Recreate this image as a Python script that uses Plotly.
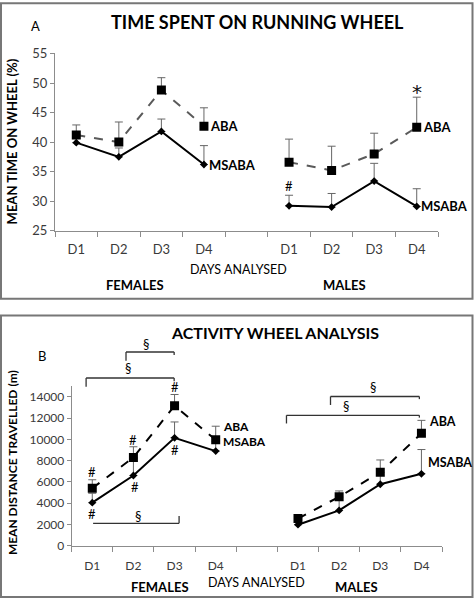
import plotly.graph_objects as go

W, H = 474, 608
def px(x): return x / W
def py(y): return 1 - y / H

# ---------------- data ----------------
days = ["D1", "D2", "D3", "D4"]
fem_x = [0, 1, 2, 3]
male_x = [5, 6, 7, 8]

# Panel A: mean time on wheel (%)
a_aba_f = [41.2, 40.0, 48.8, 42.7]
a_aba_f_err = [1.7, 3.4, 2.1, 3.1]
a_ms_f = [39.9, 37.5, 41.8, 36.2]
a_ms_f_err = [0.8, 1.5, 2.1, 3.2]
a_aba_m = [36.6, 35.2, 38.0, 42.5]
a_aba_m_err = [3.9, 4.1, 3.5, 5.1]
a_ms_m = [29.2, 29.0, 33.4, 29.1]
a_ms_m_err = [1.8, 2.3, 3.0, 3.0]

# Panel B: mean distance travelled (m)
b_aba_f = [5400, 8300, 13150, 9950]
b_aba_f_err = [800, 1000, 1060, 1280]
b_ms_f = [4050, 6600, 10140, 8890]
b_ms_f_err = [880, 1600, 1490, 900]
b_aba_m = [2550, 4600, 6900, 10560]
b_aba_m_err = [200, 550, 1160, 1220]
b_ms_m = [1980, 3320, 5780, 6760]
b_ms_m_err = [400, 1200, 1100, 2280]
b_yticks = [0, 2000, 4000, 6000, 8000, 10000, 12000, 14000]

GRAY = "#666666"
AX = "#8c8c8c"
FONT = "Lato"

fig = go.Figure()

def add_series(x, y, err, xa, ya, kind, dashcol):
    if kind == "aba":
        line = dict(color=dashcol, width=2, dash="dash")
        marker = dict(symbol="square", size=9, color="black")
    else:
        line = dict(color="black", width=2)
        marker = dict(symbol="diamond", size=6, color="black")
    fig.add_trace(go.Scatter(
        x=x, y=y, xaxis=xa, yaxis=ya, mode="lines+markers",
        line=line, marker=marker, showlegend=False,
        error_y=dict(type="data", symmetric=False, array=err,
                     arrayminus=[0] * len(err), color=GRAY,
                     thickness=1, width=4)))

# Panel A
add_series(fem_x, a_ms_f, a_ms_f_err, "x", "y", "ms", "black")
add_series(fem_x, a_aba_f, a_aba_f_err, "x", "y", "aba", "#5a5a5a")
add_series(male_x, a_ms_m, a_ms_m_err, "x", "y", "ms", "black")
add_series(male_x, a_aba_m, a_aba_m_err, "x", "y", "aba", "#5a5a5a")
# Panel B
add_series(fem_x, b_ms_f, b_ms_f_err, "x2", "y2", "ms", "black")
add_series(fem_x, b_aba_f, b_aba_f_err, "x2", "y2", "aba", "black")
add_series(male_x, b_ms_m, b_ms_m_err, "x2", "y2", "ms", "black")
add_series(male_x, b_aba_m, b_aba_m_err, "x2", "y2", "aba", "black")

tickfont = dict(family=FONT, size=13, color="#3a3a3a")
xcommon = dict(range=[-0.5, 8.5], tickmode="array", tickvals=fem_x + male_x,
               ticktext=days + days, ticks="", showline=True, linecolor=AX,
               linewidth=1, showgrid=False, zeroline=False, fixedrange=True,
               minor=dict(tickmode="array", tickvals=[i - 0.5 for i in range(10)],
                          ticks="outside", ticklen=5, tickcolor=AX, tickwidth=1))

fig.update_layout(
    width=W, height=H, margin=dict(l=0, r=0, t=0, b=0),
    paper_bgcolor="white", plot_bgcolor="white",
    font=dict(family=FONT, color="black"),
    xaxis=dict(domain=[px(55), px(438)], anchor="y", tickfont=tickfont,
               ticklabelstandoff=7, **xcommon),
    yaxis=dict(domain=[py(228.7), py(46.7)], anchor="x", range=[25, 55],
               dtick=5, tick0=25, showline=True, linecolor=AX, ticks="outside",
               ticklen=4, tickcolor=AX, showgrid=False, zeroline=False,
               tickfont=tickfont),
    xaxis2=dict(domain=[px(71.7), px(442)], anchor="y2",
                tickfont=dict(family=FONT, size=12, color="#3a3a3a"),
                ticklabelstandoff=9, **xcommon),
    yaxis2=dict(domain=[py(552.3), py(388.3)], anchor="x2", range=[0, 15000],
                tickmode="array", tickvals=b_yticks,
                ticktext=[str(v) for v in b_yticks],
                showline=True, linecolor=AX, ticks="outside", ticklen=4,
                tickcolor=AX, showgrid=False, zeroline=False,
                tickfont=dict(family=FONT, size=12, color="#3a3a3a")),
)

ann = []
def txt(x, y, s, size=13, bold=False, xref="paper", yref="paper", angle=0,
        xanchor="center", yanchor="middle", xshift=0, yshift=0, color="black",
        family=FONT):
    ann.append(dict(x=x, y=y, xref=xref, yref=yref, text=(f"<b>{s}</b>" if bold else s),
                    showarrow=False, textangle=angle, xanchor=xanchor, yanchor=yanchor,
                    xshift=xshift, yshift=yshift,
                    font=dict(family=family, size=size, color=color)))

# Panel A texts
txt(px(257), py(14), "TIME SPENT ON RUNNING WHEEL", 18, True)
txt(px(35), py(18), "A", 13)
txt(px(12), py(137), "MEAN TIME ON WHEEL (%)", 13, True, angle=-90)
txt(px(238), py(269), "DAYS ANALYSED", 12.5)
txt(px(135), py(284), "FEMALES", 13, True)
txt(px(344), py(284), "MALES", 13, True)
txt(fem_x[3], a_aba_f[3], "ABA", 13, True, "x", "y", xanchor="left", xshift=4)
txt(fem_x[3], a_ms_f[3], "MSABA", 13, True, "x", "y", xanchor="left", xshift=3)
txt(male_x[3], a_aba_m[3], "ABA", 13, True, "x", "y", xanchor="left", xshift=4)
txt(male_x[3], a_ms_m[3], "MSABA", 13, True, "x", "y", xanchor="left", xshift=2)
txt(male_x[0], a_ms_m[0], "#", 13, False, "x", "y", yshift=20)
txt(male_x[3], a_aba_m[3] + a_aba_m_err[3], "*", 20, False, "x", "y", yshift=5,
    color="#111111", family="DejaVu Sans")

# Panel B texts
txt(px(275), py(333), "ACTIVITY WHEEL ANALYSIS", 16, True)
txt(px(42), py(357), "B", 13)
txt(px(12.7), py(466.7), "MEAN DISTANCE TRAVELLED (m)", 12, True, angle=-90)
txt(px(160), py(595), "FEMALES", 13, True)
txt(px(256.7), py(590), "DAYS ANALYSED", 12.5)
txt(px(356.7), py(595), "MALES", 13, True)
txt(fem_x[3], b_aba_f[3], "ABA", 12, True, "x2", "y2", xanchor="left", xshift=5, yshift=13)
txt(fem_x[3], b_aba_f[3], "MSABA", 12, True, "x2", "y2", xanchor="left", xshift=5, yshift=-2)
txt(male_x[3], b_aba_m[3], "ABA", 12.5, True, "x2", "y2", xanchor="left", xshift=6, yshift=12)
txt(male_x[3], b_ms_m[3], "MSABA", 12.5, True, "x2", "y2", xanchor="left", xshift=5, yshift=11)
# significance marks
for xi, yv in [(0, 6900), (0, 2950), (1, 9890), (1.05, 5530), (2, 14880), (2, 8980)]:
    txt(xi, yv, "#", 13, False, "x2", "y2")

shapes = []
def seg(x0, y0, x1, y1, xref="x2", color="#333333", w=1.3):
    shapes.append(dict(type="line", x0=x0, y0=y0, x1=x1, y1=y1, xref=xref,
                       yref="paper", line=dict(color=color, width=w)))

def bracket(xl, xr, ypx, lleg, rleg, sx, sy):
    seg(xl, py(ypx), xr, py(ypx))
    if lleg:
        seg(xl, py(ypx), xl, py(ypx + lleg))
    if rleg:
        seg(xr, py(ypx), xr, py(ypx + rleg))
    txt(sx, py(sy), "§", 13, False, "x2", "paper")

bracket(0.82, 1.99, 353.3, 9, 3, 1.3, 345)
bracket(-0.15, 1.99, 380, 9, 3.3, 0.86, 370)
bracket(0.02, 2.11, 529.3, 0, -7.6, 1.12, 521.7)
bracket(5.79, 7.95, 399, 8.7, 2.7, 6.82, 389.3)
bracket(4.72, 7.95, 418.3, 8.4, 2.4, 6.17, 408.3)

# panel borders
shapes.append(dict(type="rect", xref="paper", yref="paper", x0=px(1), x1=px(472.5),
                   y0=py(298.5), y1=py(-5), line=dict(color="#777777", width=2)))
shapes.append(dict(type="rect", xref="paper", yref="paper", x0=px(1), x1=px(472.5),
                   y0=py(605), y1=py(315.7), line=dict(color="#777777", width=2)))

fig.update_layout(annotations=ann, shapes=shapes)
fig.write_html("out.html")
